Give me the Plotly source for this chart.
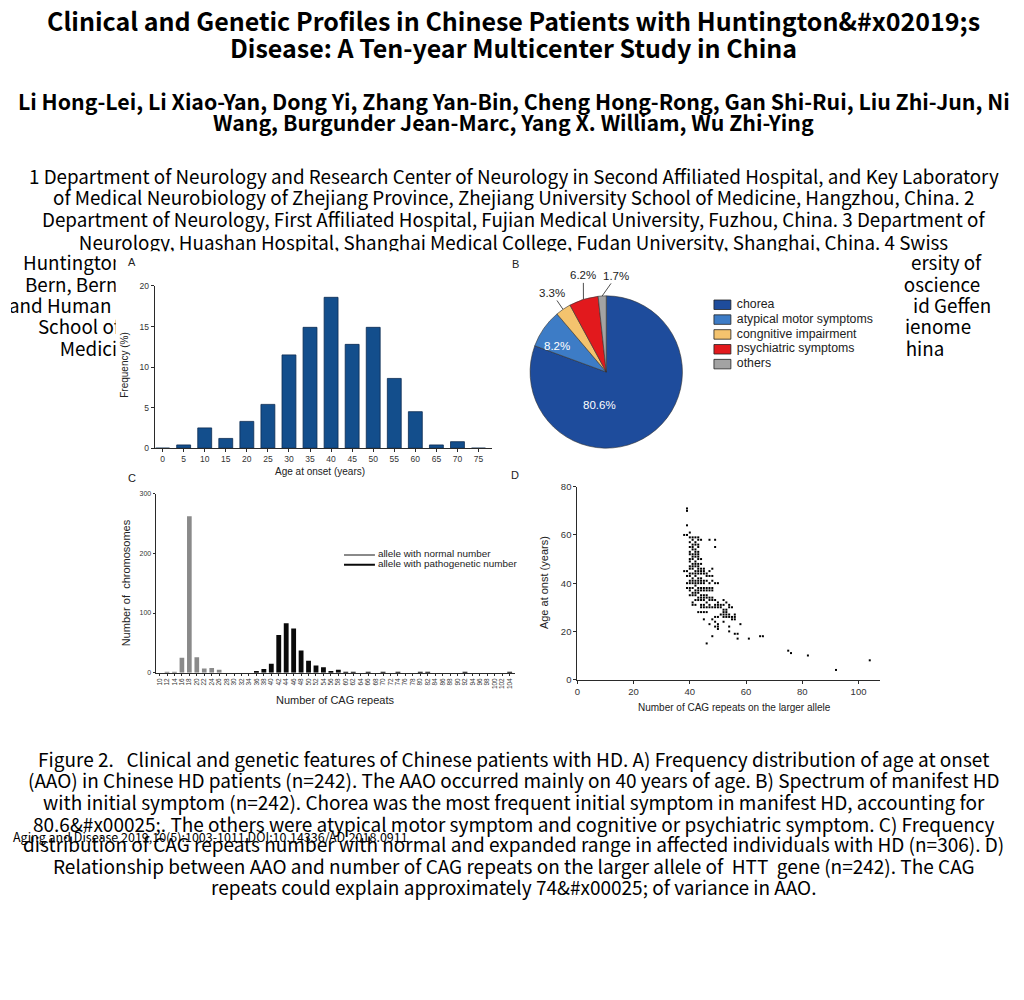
import math
import plotly.graph_objects as go

W, H = 1024, 1000
OFF = 8  # page body margin of the html page


def px(x):
    return (x - OFF) / W


def py(y):
    return 1 - (y - OFF) / H


SLIDE_FONT = "Noto Sans CJK SC"
FIG_FONT = "Liberation Sans"

# ------------------------------------------------------------------ slide text
title_lines = [
    "Clinical and Genetic Profiles in Chinese Patients with Huntington&amp;#x02019;s",
    "Disease: A Ten-year Multicenter Study in China",
]
title_y = [14, 41]
author_lines = [
    "Li Hong-Lei, Li Xiao-Yan, Dong Yi, Zhang Yan-Bin, Cheng Hong-Rong, Gan Shi-Rui, Liu Zhi-Jun, Ni",
    "Wang, Burgunder Jean-Marc, Yang X. William, Wu Zhi-Ying",
]
author_y = [95, 117]
affil_lines = [
    "1 Department of Neurology and Research Center of Neurology in Second Affiliated Hospital, and Key Laboratory",
    "of Medical Neurobiology of Zhejiang Province, Zhejiang University School of Medicine, Hangzhou, China. 2",
    "Department of Neurology, First Affiliated Hospital, Fujian Medical University, Fuzhou, China. 3 Department of",
]
affil_y = [171, 193, 215]
affil_cut_line = "Neurology, Huashan Hospital, Shanghai Medical College, Fudan University, Shanghai, China. 4 Swiss"
affil_cut_y = 242
affil_left = ["Huntington's Disease", "Bern, Bern, Switzerland", "and Human Behavior", "School of Medicine", "Medicine and"]
affil_left_x = [20, 22, 6, 35, 57]
affil_right = ["ersity of", "oscience", "id Geffen", "ienome", "hina"]
affil_right_x = [981, 980, 991, 971, 944]
affil_frag_y = [262, 284, 306, 327, 349]
caption_lines = [
    "Figure 2.\u00a0\u00a0 Clinical and genetic features of Chinese patients with HD. A) Frequency distribution of age at onset",
    "(AAO) in Chinese HD patients (n=242). The AAO occurred mainly on 40 years of age. B) Spectrum of manifest HD",
    "with initial symptom (n=242). Chorea was the most frequent initial symptom in manifest HD, accounting for",
    "80.6&amp;#x00025;. The others were atypical motor symptom and cognitive or psychiatric symptom. C) Frequency",
    "distribution of CAG repeats number with normal and expanded range in affected individuals with HD (n=306). D)",
    "Relationship between AAO and number of CAG repeats on the larger allele of\u00a0 HTT\u00a0 gene (n=242). The CAG",
    "repeats could explain approximately 74&amp;#x00025; of variance in AAO.",
]
caption_y = [761, 782, 804, 826, 847, 869, 890]
journal_text = "Aging and Disease 2019,10(5):1003-1011 DOI:10.14336/AD.2018.0911"

# ------------------------------------------------------------------ panel A
age_bins = [0, 5, 10, 15, 20, 25, 30, 35, 40, 45, 50, 55, 60, 65, 70, 75]
age_freq = [0, 0.4, 2.5, 1.2, 3.3, 5.4, 11.5, 14.9, 18.6, 12.8, 14.9, 8.6, 4.5, 0.4, 0.8, 0]

# ------------------------------------------------------------------ panel B
symptoms = ["chorea", "atypical motor symptoms", "congnitive impairment", "psychiatric symptoms", "others"]
symptom_pct = [80.6, 8.2, 3.3, 6.2, 1.7]
symptom_colors = ["#1e4c9c", "#3d7cc6", "#f4c36e", "#e2191d", "#a3a3a3"]

# ------------------------------------------------------------------ panel C
cag_repeats = list(range(10, 106, 2))
normal_counts = [0, 1, 1, 25, 262, 26, 7, 8, 5, 0, 0, 0, 0,
                 0, 0, 0, 0, 0, 0, 0, 0, 0, 0, 0, 0, 0, 0, 0, 0, 0, 0, 0, 0, 0, 0,
                 0, 0, 0, 0, 0, 0, 0, 0, 0, 0, 0, 0, 0]
pathogenic_counts = [0, 0, 0, 0, 0, 0, 0, 0, 0, 0, 0, 0, 0,
                     3, 6, 15, 63, 83, 74, 37, 20, 12, 9, 3, 5, 1, 1, 0, 1, 0, 1, 0, 1, 0, 0,
                     1, 1, 0, 0, 0, 0, 1, 0, 0, 0, 0, 0, 1]
allele_names = ["allele with normal number", "allele with pathogenetic number"]

# ------------------------------------------------------------------ panel D
# age at onset values read for each CAG repeat length on the larger allele
aao_by_cag = {
    38: [60, 45],
    39: [71, 70, 64, 60, 45, 43, 40, 38],
    40: [61, 59, 57, 55, 53, 52, 50, 49, 47, 46, 44, 43, 41, 40, 38, 37, 35],
    41: [59, 58, 56, 55, 54, 52, 51, 50, 48, 47, 46, 44, 42, 41, 40, 38, 36, 35, 32, 31],
    42: [59, 57, 56, 54, 53, 52, 51, 49, 48, 47, 45, 44, 43, 41, 40, 39, 37, 36, 35, 33, 31],
    43: [59, 58, 56, 55, 53, 52, 51, 50, 48, 47, 46, 45, 44, 42, 41, 40, 38, 37, 36, 34, 33, 28],
    44: [58, 50, 48, 46, 45, 44, 42, 41, 40, 38, 37, 35, 34, 33, 31, 30, 28],
    45: [46, 45, 44, 41, 40, 38, 37, 35, 34, 33, 31, 30, 28, 25],
    46: [44, 43, 41, 38, 37, 35, 34, 32, 30, 28, 15],
    47: [58, 45, 43, 40, 38, 37, 34, 33, 31, 30, 23],
    48: [46, 43, 41, 38, 37, 34, 33, 30, 25, 18],
    49: [58, 55, 40, 33, 31, 30, 26, 24, 22],
    50: [40, 32, 31, 30, 26, 23, 22, 21],
    51: [31, 30, 27],
    52: [33, 31, 29, 28, 27, 26, 24],
    53: [32, 29, 28, 27, 26],
    54: [31, 30, 27, 26, 22, 20],
    55: [30, 26, 25],
    56: [27, 26, 25, 19],
    57: [19, 17],
    58: [23],
    61: [17],
    65: [18],
    66: [18],
    75: [12],
    76: [11],
    82: [10],
    92: [4],
    104: [8],
}
cag_larger = [k for k, vals in aao_by_cag.items() for _ in vals]
aao = [v for vals in aao_by_cag.values() for v in vals]

# ------------------------------------------------------------------ figure
fig = go.Figure()

AX = dict(showline=True, linecolor="#2a2a2a", linewidth=1, ticks="outside", ticklen=3,
          tickwidth=1, tickcolor="#2a2a2a", showgrid=False, zeroline=False,
          tickfont=dict(family=FIG_FONT, size=8.5, color="#333"), fixedrange=True)
HIDDEN = dict(visible=False, fixedrange=True)

# A ---------------------------------------------------------------
fig.add_trace(go.Bar(x=age_bins, y=age_freq, width=3.3, xaxis="x", yaxis="y",
                     marker=dict(color="#134e8c", line=dict(color="#0b2b50", width=0.8)),
                     showlegend=False, hoverinfo="skip"))

# B ---------------------------------------------------------------
PIE_CX, PIE_CY, PIE_R = 605, 370, 77
fig.add_trace(go.Pie(labels=symptoms, values=symptom_pct, sort=False, direction="clockwise",
                     rotation=0, textinfo="none", hoverinfo="skip", showlegend=False,
                     marker=dict(colors=symptom_colors, line=dict(color="#333", width=0.6)),
                     domain=dict(x=[px(PIE_CX - PIE_R), px(PIE_CX + PIE_R)],
                                 y=[py(PIE_CY + PIE_R), py(PIE_CY - PIE_R)])))

# B legend (own hidden axis, units: px offset / row index)
for i, (name, col) in enumerate(zip(symptoms, symptom_colors)):
    fig.add_shape(type="rect", xref="x4", yref="y4", x0=8, x1=25, y0=i - 0.32, y1=i + 0.32,
                  fillcolor=col, line=dict(color="#222", width=0.8))
fig.add_trace(go.Scatter(x=[31] * len(symptoms), y=list(range(len(symptoms))), text=symptoms,
                         mode="text", textposition="middle right", xaxis="x4", yaxis="y4",
                         textfont=dict(family=FIG_FONT, size=12.3, color="#222"),
                         showlegend=False, hoverinfo="skip", cliponaxis=False))

# C ---------------------------------------------------------------
fig.add_trace(go.Bar(x=cag_repeats, y=normal_counts, width=1.25, xaxis="x2", yaxis="y2",
                     name=allele_names[0], marker=dict(color="#8a8a8a", line=dict(width=0)),
                     showlegend=False, hoverinfo="skip"))
fig.add_trace(go.Bar(x=cag_repeats, y=pathogenic_counts, width=1.3, xaxis="x2", yaxis="y2",
                     name=allele_names[1], marker=dict(color="#0a0a0a", line=dict(width=0)),
                     showlegend=False, hoverinfo="skip"))
# C legend
for i, (name, col) in enumerate(zip(allele_names, ["#8a8a8a", "#0a0a0a"])):
    fig.add_trace(go.Scatter(x=[7, 38], y=[i, i], mode="lines", line=dict(color=col, width=2),
                             xaxis="x5", yaxis="y5", showlegend=False, hoverinfo="skip"))
fig.add_trace(go.Scatter(x=[41, 41], y=[0, 1], text=allele_names, mode="text",
                         textposition="middle right", xaxis="x5", yaxis="y5",
                         textfont=dict(family=FIG_FONT, size=9.9, color="#222"),
                         showlegend=False, hoverinfo="skip", cliponaxis=False))

# D ---------------------------------------------------------------
fig.add_trace(go.Scatter(x=cag_larger, y=aao, mode="markers", xaxis="x3", yaxis="y3",
                         marker=dict(symbol="square", size=2, color="#000", line=dict(width=0)),
                         showlegend=False, hoverinfo="skip", cliponaxis=False))

# slide affiliation lines partly hidden by the figure (clipped text) ----
SFS = 18.8
fig.add_trace(go.Scatter(x=[512], y=[affil_cut_y], text=[affil_cut_line], mode="text",
                         textposition="middle center", xaxis="x6", yaxis="y6",
                         textfont=dict(family=SLIDE_FONT, size=SFS, color="#000"),
                         showlegend=False, hoverinfo="skip", cliponaxis=True))
fig.add_trace(go.Scatter(x=affil_left_x, y=affil_frag_y, text=affil_left, mode="text",
                         textposition="middle right", xaxis="x7", yaxis="y7",
                         textfont=dict(family=SLIDE_FONT, size=SFS, color="#000"),
                         showlegend=False, hoverinfo="skip", cliponaxis=True))
fig.add_trace(go.Scatter(x=affil_right_x, y=affil_frag_y, text=affil_right, mode="text",
                         textposition="middle left", xaxis="x8", yaxis="y8",
                         textfont=dict(family=SLIDE_FONT, size=SFS, color="#000"),
                         showlegend=False, hoverinfo="skip", cliponaxis=True))

# ------------------------------------------------------------------ layout
layout = dict(
    width=W, height=H, margin=dict(l=0, r=0, t=0, b=0),
    paper_bgcolor="white", plot_bgcolor="rgba(0,0,0,0)",
    barmode="overlay", showlegend=False,
    xaxis=dict(AX, domain=[px(152), px(490)], range=[-1.9, 78.1], tickvals=age_bins, anchor="y"),
    yaxis=dict(AX, domain=[py(447), py(283)], range=[0, 20], tickvals=[0, 5, 10, 15, 20], anchor="x"),
    xaxis2=dict(AX, domain=[px(153), px(513)], range=[8.93, 105.3], tickvals=cag_repeats,
                ticktext=[str(c) for c in cag_repeats], tickangle=-90, ticklen=2,
                tickfont=dict(family=FIG_FONT, size=6.5, color="#333"), anchor="y2"),
    yaxis2=dict(AX, domain=[py(674), py(493)], range=[0, 300], tickvals=[0, 100, 200, 300],
                ticklen=2, tickfont=dict(family=FIG_FONT, size=7, color="#333"), anchor="x2"),
    xaxis3=dict(AX, domain=[px(576), px(880)], range=[0, 107.8], tickvals=[0, 20, 40, 60, 80, 100],
                tickfont=dict(family=FIG_FONT, size=9.5, color="#333"), anchor="y3"),
    yaxis3=dict(AX, domain=[py(681), py(486)], range=[0, 80], tickvals=[0, 20, 40, 60, 80],
                tickfont=dict(family=FIG_FONT, size=9.5, color="#333"), anchor="x3"),
    xaxis4=dict(HIDDEN, domain=[px(705), px(900)], range=[0, 195], anchor="y4"),
    yaxis4=dict(HIDDEN, domain=[py(370), py(294)], range=[4.533, -0.533], anchor="x4"),
    xaxis5=dict(HIDDEN, domain=[px(335), px(530)], range=[0, 195], anchor="y5"),
    yaxis5=dict(HIDDEN, domain=[py(575), py(545)], range=[2, -1], anchor="x5"),
    xaxis6=dict(HIDDEN, domain=[px(OFF), px(W + OFF)], range=[OFF, W + OFF], anchor="y6"),
    yaxis6=dict(HIDDEN, domain=[py(248), py(226)], range=[248, 226], anchor="x6"),
    xaxis7=dict(HIDDEN, domain=[px(OFF), px(113)], range=[OFF, 113], anchor="y7"),
    yaxis7=dict(HIDDEN, domain=[py(372), py(248)], range=[372, 248], anchor="x7"),
    xaxis8=dict(HIDDEN, domain=[px(898), px(W + OFF)], range=[898, W + OFF], anchor="y8"),
    yaxis8=dict(HIDDEN, domain=[py(372), py(248)], range=[372, 248], anchor="x8"),
)
fig.update_layout(**layout)

ann = []


def slide_text(text, y, size, bold=False):
    ann.append(dict(text=f"<b>{text}</b>" if bold else text, x=px(512), y=py(y), xref="paper",
                    yref="paper", xanchor="center", yanchor="middle", showarrow=False,
                    font=dict(family=SLIDE_FONT, size=size, color="#000")))


for t, y in zip(title_lines, title_y):
    slide_text(t, y, 25, bold=True)
for t, y in zip(author_lines, author_y):
    slide_text(t, y, 21.3, bold=True)
for t, y in zip(affil_lines, affil_y):
    slide_text(t, y, SFS)
for t, y in zip(caption_lines, caption_y):
    slide_text(t, y, 19)
ann.append(dict(text=journal_text, x=px(8), y=py(840), xref="paper", yref="paper",
                xanchor="left", yanchor="middle", showarrow=False,
                font=dict(family=SLIDE_FONT, size=12.5, color="#000")))


def fig_text(text, x, y, size, angle=0, color="#222"):
    ann.append(dict(text=text, x=px(x), y=py(y), xref="paper", yref="paper", xanchor="center",
                    yanchor="middle", showarrow=False, textangle=angle,
                    font=dict(family=FIG_FONT, size=size, color=color)))


# panel letters
fig_text("A", 129, 259, 11)
fig_text("B", 514, 261, 11)
fig_text("C", 129, 477, 11)
fig_text("D", 513, 474, 11)
# axis titles
fig_text("Frequency (%)", 121, 363, 10, angle=-90)
fig_text("Age at onset (years)", 318, 471, 10)
fig_text("Number of\u00a0 chromosomes", 123, 583, 11, angle=-90)
fig_text("Number of CAG repeats", 333, 702, 11)
fig_text("Age at onst (years)", 542, 583, 11, angle=-90)
fig_text("Number of CAG repeats on the larger allele", 734, 709, 10)

# pie labels (text from data, placed at slice angles)
pie_label_r = [0.44, 0.78, 1.255, 1.3, 1.266]
pie_label_shift = [47, 0, 0, 4, 9]
pie_label_outside = [False, False, True, True, True]
total = sum(symptom_pct)
cum = 0.0
for i, v in enumerate(symptom_pct):
    mid = (cum + v / 2) / total * 360
    cum += v
    a = math.radians(mid + pie_label_shift[i])
    lx = PIE_CX + PIE_R * pie_label_r[i] * math.sin(a)
    ly = PIE_CY - PIE_R * pie_label_r[i] * math.cos(a)
    label = f"{v:.1f}%"
    if pie_label_outside[i]:
        m = math.radians(mid)
        ex = PIE_CX + PIE_R * math.sin(m)
        ey = PIE_CY - PIE_R * math.cos(m)
        ann.append(dict(text=label, x=px(ex), y=py(ey), xref="paper", yref="paper",
                        showarrow=True, arrowhead=0, arrowwidth=0.8, arrowcolor="#222",
                        ax=lx - ex, ay=ly - ey, standoff=0,
                        font=dict(family=FIG_FONT, size=11.5, color="#222")))
    else:
        ann.append(dict(text=label, x=px(lx), y=py(ly), xref="paper", yref="paper",
                        showarrow=False, font=dict(family=FIG_FONT, size=11.5, color="white")))

fig.update_layout(annotations=ann)
fig.write_html("out.html")
